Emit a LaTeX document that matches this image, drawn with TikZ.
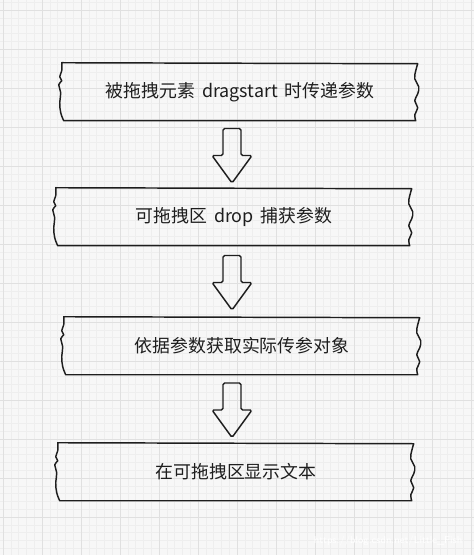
\documentclass[tikz,border=0pt]{standalone}
\usepackage{fontspec}
\newfontfamily\cjk{Noto Sans CJK SC}
\usetikzlibrary{calc}

\definecolor{paper}{HTML}{F7F7F7}
\definecolor{minorline}{HTML}{EEEEEE}
\definecolor{majorline}{HTML}{E0E0E0}
\definecolor{ink}{HTML}{1E1E1E}

\newcommand{\gap}{\hspace{.4em}}

\newcommand{\tornbox}[1]{%
    \begin{scope}[shift={(#1.north west)}]
        \draw[handline] (0,0) -- (178,0.5) -- (356,1)
            -- plot[smooth, tension=0.7] coordinates {(356,1) (354,8) (353,16) (357,24) (356,31) (353,38) (356,45) (353,52) (354,58)}
            -- (2,58)
            -- plot[smooth, tension=0.7] coordinates {(2,58) (-1,50) (-2,40) (-1,30) (-3,22) (0,18) (-2,14) (0,8) (0,0)}
            -- cycle;
    \end{scope}}

\newcommand{\hollowarrow}[2]{%
    \path (#1.south) -- (#2.north) coordinate[pos=0.5] (#1mid);
    \begin{scope}[shift={(axis |- #1mid)}]
        \draw[handline, rounded corners=1.2pt] (-9,-26) -- (9,-26) -- (9,1) -- (20,1)
            -- (0,28.5) -- (-20,1) -- (-9,1) -- cycle;
    \end{scope}}

\begin{document}
\begin{tikzpicture}[x=0.75pt, y=-0.75pt,
        every node/.style={font=\cjk\fontsize{13.4}{16}\selectfont, text=ink},
        box/.style={minimum width=267pt, minimum height=43.5pt, inner sep=0pt},
        handline/.style={line width=1.1pt, line join=round, line cap=round, draw=ink}]

    \useasboundingbox (0,0) rectangle (474,555);
    \fill[paper] (0,0) rectangle (474,555);

    \foreach \i in {0,...,61}
        \draw[minorline, line width=0.3pt] ({-4.8+\i*7.8},0) -- ({-4.8+\i*7.8},555);
    \foreach \i in {0,...,71}
        \draw[minorline, line width=0.3pt] (0,{2.2+\i*7.8}) -- (474,{2.2+\i*7.8});
    \foreach \i in {0,...,12}
        \draw[majorline, line width=0.5pt] ({3+\i*39},0) -- ({3+\i*39},555);
    \foreach \i in {0,...,14}
        \draw[majorline, line width=0.5pt] (0,{10+\i*39}) -- (474,{10+\i*39});

    \coordinate (axis) at (232,0);

    \foreach \n/\x/\y/\t in {s1/240/92/{被拖拽元素\gap dragstart\gap 时传递参数},
                             s2/234/217/{可拖拽区\gap drop\gap 捕获参数},
                             s3/242/346/{依据参数获取实际传参对象},
                             s4/236/472/{在可拖拽区显示文本}}
        \node[box] (\n) at (\x,\y) {\t};

    \foreach \n in {s1,s2,s3,s4}
        \tornbox{\n};

    \foreach \a/\b in {s1/s2,s2/s3,s3/s4}
        \hollowarrow{\a}{\b};

    \node[font=\sffamily\fontsize{7.5}{9}\selectfont, text=white, anchor=east] (mark) at (467,541)
        {https://blog.csdn.net/Little\_Fish};

\end{tikzpicture}
\end{document}
